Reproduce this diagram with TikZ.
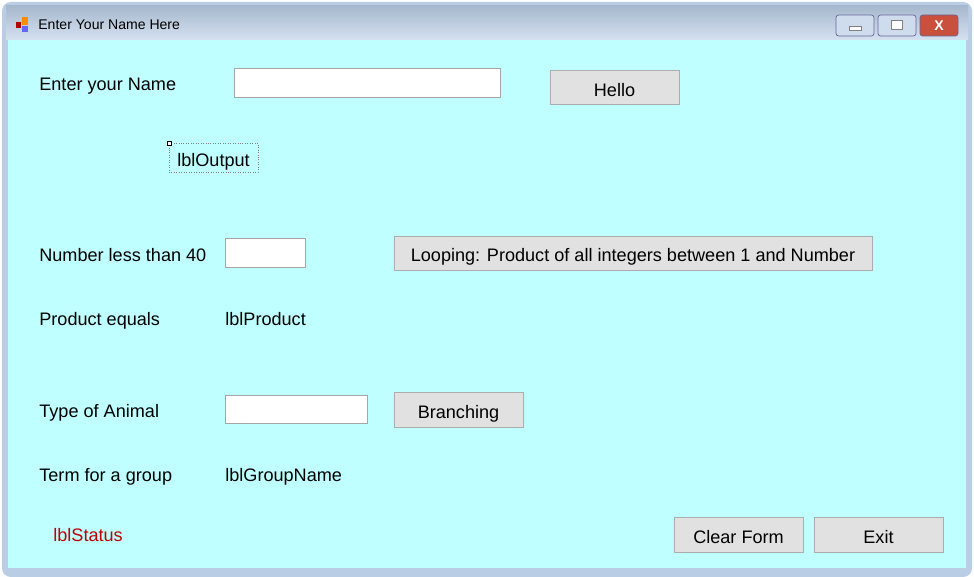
\documentclass[tikz,border=0pt]{standalone}
\usepackage{fontspec}
\setmainfont{Liberation Sans}
\usetikzlibrary{positioning}
\definecolor{formbg}{HTML}{C0FFFF}
\definecolor{framebg}{HTML}{B9CDE5}
\definecolor{btnbg}{HTML}{E1E1E1}
\definecolor{btnline}{HTML}{ADADAD}
\definecolor{closered}{HTML}{C9503C}
\tikzset{form text/.style={anchor=west,inner sep=0pt,text height=0.72em,text depth=0.2em,yshift=-0.04cm,font=\fontsize{10.3pt}{12pt}\selectfont}}
\tikzset{form button/.style={draw=btnline,fill=btnbg,inner sep=0pt,text height=0.72em,text depth=0.12em,font=\fontsize{10.3pt}{12pt}\selectfont}}

\begin{document}
\begin{tikzpicture}
      [
      x=0.02cm,y=-0.02cm,
      text box/.style={draw=gray!70,fill=white},
      caption btn/.style={draw=gray!80!blue,fill=framebg!70!white,rounded corners=1.5pt},
      ]
      \useasboundingbox (0,0) rectangle (974,577);

      % window frame
      \fill [framebg,rounded corners=5pt] (2,2) rectangle (972,577);
      \fill [top color=framebg!90!black,bottom color=framebg!60!white] (6,6) rectangle (968,40);
      \fill [formbg] (8,40) rectangle (966,568);

      % title bar
      \fill [red!70!black] (16,22) rectangle (21,28);
      \fill [orange!90!yellow] (22,17) rectangle (28,25);
      \fill [blue!60] (22,26) rectangle (28,32);
      \node [anchor=west,inner sep=0pt,font=\fontsize{8pt}{9pt}\selectfont] (title) at (38,25) {Enter Your Name Here};
      \draw [caption btn] (836,15) rectangle (874,36);
      \draw [caption btn] (878,15) rectangle (916,36);
      \draw [caption btn,fill=closered] (920,15) rectangle (958,36);
      \draw [fill=white,draw=gray] (849,26) rectangle (861,30);
      \draw [fill=white,draw=gray] (891,20) rectangle (902,29);
      \node [text=white,font=\bfseries\fontsize{8pt}{8pt}\selectfont] (close) at (939,25.5) {X};

      % name row
      \node [form text] (lblName) at (39,84) {Enter your Name};
      \draw [text box] (234,68) rectangle (500,97);
      \node [form button,minimum width=129*0.02cm,minimum height=34*0.02cm] (btnHello) at (614.5,87) {\raisebox{-2.5pt}{Hello}};
      \node [form button,draw=gray,fill=none,densely dotted,minimum width=89*0.02cm,minimum height=29*0.02cm] (lblOutput) at (213.5,157.5) {\raisebox{-2pt}{lblOutput}};
      \draw [fill=white] (167,141) rectangle (171,145);

      % looping row
      \node [form text] (lblNumber) at (39,255) {Number less than 40};
      \draw [text box] (225,238) rectangle (305,267);
      \node [form button,minimum width=478*0.02cm,minimum height=34*0.02cm] (btnLoop) at (633,253) {\raisebox{-2pt}{Looping: Product of all integers between 1 and Number}};
      \node [form text] (lblEquals) at (39,319) {Product equals};
      \node [form text] (lblProduct) at (225,319) {lblProduct};

      % branching row
      \node [form text] (lblAnimal) at (39,411) {Type of Animal};
      \draw [text box] (225,395) rectangle (367,423);
      \node [form button,minimum width=129*0.02cm,minimum height=35*0.02cm] (btnBranch) at (458.5,409.5) {\raisebox{-2pt}{Branching}};
      \node [form text] (lblTerm) at (39,475) {Term for a group};
      \node [form text] (lblGroupName) at (225,475) {lblGroupName};

      % bottom row
      \node [form text,text=red!75!black] (lblStatus) at (53,535) {lblStatus};
      \node [form button,minimum width=129*0.02cm,minimum height=35*0.02cm] (btnClear) at (738.5,534.5) {\raisebox{-2pt}{Clear Form}};
      \node [form button,minimum width=129*0.02cm,minimum height=35*0.02cm] (btnExit) at (878.5,534.5) {\raisebox{-2pt}{Exit}};
\end{tikzpicture}
\end{document}
